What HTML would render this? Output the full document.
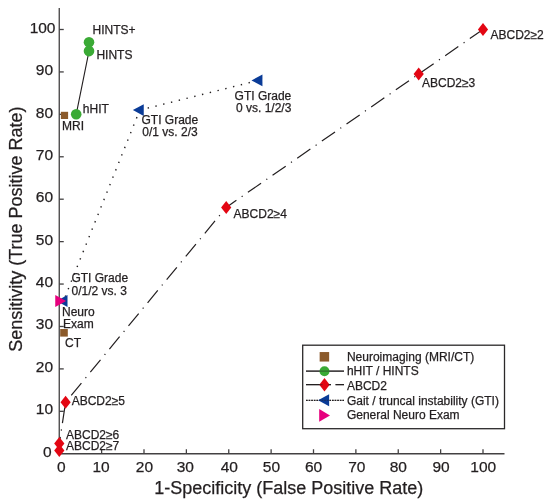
<!DOCTYPE html>
<html><head><meta charset="utf-8"><title>ROC</title>
<style>html,body{margin:0;padding:0;background:#fff}svg{display:block}text{font-family:"Liberation Sans",Arial,sans-serif;fill:#231f20;stroke:#231f20;stroke-width:0.25px}</style></head><body>
<svg width="550" height="503" viewBox="0 0 550 503">
<rect width="550" height="503" fill="#fff"/>
<g stroke="#434142" stroke-width="1.3" fill="none" stroke-linecap="butt">
<path d="M59.25 8V453.75H504.5"/>
<path d="M101.62 453.75v-4.5"/>
<path d="M59.25 411.32h4.5"/>
<path d="M144 453.75v-4.5"/>
<path d="M59.25 368.9h4.5"/>
<path d="M186.38 453.75v-4.5"/>
<path d="M59.25 326.48h4.5"/>
<path d="M228.75 453.75v-4.5"/>
<path d="M59.25 284.05h4.5"/>
<path d="M271.12 453.75v-4.5"/>
<path d="M59.25 241.62h4.5"/>
<path d="M313.5 453.75v-4.5"/>
<path d="M59.25 199.2h4.5"/>
<path d="M355.88 453.75v-4.5"/>
<path d="M59.25 156.78h4.5"/>
<path d="M398.25 453.75v-4.5"/>
<path d="M59.25 114.35h4.5"/>
<path d="M440.62 453.75v-4.5"/>
<path d="M59.25 71.93h4.5"/>
<path d="M483 453.75v-4.5"/>
<path d="M59.25 29.5h4.5"/>
</g>
<g font-size="15.5" text-anchor="middle">
<text x="61.25" y="471.5">0</text>
<text x="101.03" y="471.5">10</text>
<text x="144.4" y="471.5">20</text>
<text x="185.28" y="471.5">30</text>
<text x="229.35" y="471.5">40</text>
<text x="271.43" y="471.5">50</text>
<text x="313.5" y="471.5">60</text>
<text x="356.88" y="471.5">70</text>
<text x="398.25" y="471.5">80</text>
<text x="441.02" y="471.5">90</text>
<text x="483.3" y="471.5">100</text>
</g>
<g font-size="15.5" text-anchor="end">
<text x="51.6" y="456.5">0</text>
<text x="53.1" y="414.15">10</text>
<text x="53.1" y="371.8">20</text>
<text x="53.1" y="329.45">30</text>
<text x="53.1" y="287.1">40</text>
<text x="53.1" y="244.75">50</text>
<text x="53.1" y="202.4">60</text>
<text x="53.1" y="160.05">70</text>
<text x="53.1" y="117.7">80</text>
<text x="53.1" y="75.35">90</text>
<text x="55.5" y="33">100</text>
</g>
<text x="288.7" y="493.5" font-size="18" text-anchor="middle" fill="#1a1718">1-Specificity (False Positive Rate)</text>
<text transform="translate(21.8 229.1) rotate(-90)" font-size="18" text-anchor="middle" fill="#1a1718">Sensitivity (True Positive Rate)</text>
<polyline fill="none" stroke="#231f20" stroke-width="1.2" stroke-dasharray="16 6.4 1.2 6.4" points="483,29.5 418.7,74 226.2,207.4 65.6,402.2 59.3,443.6 59.3,450.6"/>
<polyline fill="none" stroke="#231f20" stroke-width="1.4" stroke-dasharray="1.4 6.6" stroke-dashoffset="7.2" points="258.41,80.41 139.76,110.11"/>
<polyline fill="none" stroke="#231f20" stroke-width="1.4" stroke-dasharray="1.4 6.6" stroke-dashoffset="0.46" points="139.76,110.11 63.49,301.02"/>
<polyline fill="none" stroke="#231f20" stroke-width="1.1" points="89,42.2 89,51.1 76.2,114.3"/>
<rect x="60.9" y="111.8" width="7.2" height="7.2" fill="#8b5a2b"/>
<rect x="60.2" y="329" width="7.6" height="7.6" fill="#8b5a2b"/>
<circle cx="89" cy="42.2" r="5.3" fill="#3aaa35"/>
<circle cx="89" cy="51.1" r="5.3" fill="#3aaa35"/>
<circle cx="76.2" cy="114.3" r="5.3" fill="#3aaa35"/>
<path d="M251.51 80.41L262.41 74.51V86.31Z" fill="#0a3b97"/>
<path d="M132.86 110.11L143.76 104.21V116.01Z" fill="#0a3b97"/>
<path d="M56.59 301.02L67.49 295.12V306.92Z" fill="#0a3b97"/>
<path d="M66.15 301.02L55.25 295.12V306.92Z" fill="#e6007e"/>
<path d="M483 23L488.1 29.5L483 36L477.9 29.5Z" fill="#e30613"/>
<path d="M418.7 67.5L423.8 74L418.7 80.5L413.6 74Z" fill="#e30613"/>
<path d="M226.2 200.9L231.3 207.4L226.2 213.9L221.1 207.4Z" fill="#e30613"/>
<path d="M65.6 395.7L70.7 402.2L65.6 408.7L60.5 402.2Z" fill="#e30613"/>
<path d="M59.3 437.1L64.4 443.6L59.3 450.1L54.2 443.6Z" fill="#e30613"/>
<path d="M59.3 444.1L64.4 450.6L59.3 457.1L54.2 450.6Z" fill="#e30613"/>
<g font-size="12">
<text x="92.5" y="34.3">HINTS+</text>
<text x="96.4" y="59">HINTS</text>
<text x="82.8" y="113.4">hHIT</text>
<text x="62" y="130">MRI</text>
<text x="141.5" y="123.6">GTI Grade</text>
<text x="142.3" y="136">0/1 vs. 2/3</text>
<text x="234.6" y="100">GTI Grade</text>
<text x="236" y="112.4">0 vs. 1/2/3</text>
<text x="71.4" y="282.4">GTI Grade</text>
<text x="71.6" y="294.6">0/1/2 vs. 3</text>
<text x="62" y="315.6">Neuro</text>
<text x="63" y="328">Exam</text>
<text x="65" y="347.4">CT</text>
<text x="490.5" y="38.6">ABCD2≥2</text>
<text x="422" y="86.5">ABCD2≥3</text>
<text x="233.6" y="218">ABCD2≥4</text>
<text x="71.7" y="405">ABCD2≥5</text>
<text x="66" y="438.7">ABCD2≥6</text>
<text x="66" y="449.8">ABCD2≥7</text>
</g>
<rect x="302.7" y="345.2" width="201.8" height="83.5" fill="#fff" stroke="#2b292a" stroke-width="1.3"/>
<g font-size="12">
<text x="346.9" y="361">Neuroimaging (MRI/CT)</text>
<text x="346.9" y="375.2">hHIT / HINTS</text>
<text x="346.9" y="389.7">ABCD2</text>
<text x="346.9" y="404.5">Gait / truncal instability (GTI)</text>
<text x="346.9" y="419">General Neuro Exam</text>
</g>
<rect x="319.65" y="352.05" width="9.5" height="9.5" fill="#8b5a2b"/>
<path d="M306 371.2H344" stroke="#231f20" stroke-width="1.2"/>
<circle cx="324.5" cy="371.2" r="5.0" fill="#3aaa35"/>
<path d="M306 371.2H344" stroke="#231f20" stroke-width="1.2" opacity="0.45"/>
<path d="M306 384.7H322.5M328 384.7H331M335.5 384.7H344" stroke="#231f20" stroke-width="1.2"/>
<path d="M324.5 377.9L329.7 384.7L324.5 391.5L319.3 384.7Z" fill="#e30613"/>
<path d="M306 384.7H322.5M328 384.7H331M335.5 384.7H344" stroke="#231f20" stroke-width="1.2" opacity="0.45"/>
<path d="M306 400.3H344" stroke="#231f20" stroke-width="1.2" stroke-dasharray="1.7 0.9"/>
<path d="M318.1 400.2L329.1 394.2V406.2Z" fill="#0a3b97"/>
<path d="M306 400.3H344" stroke="#231f20" stroke-width="1.2" stroke-dasharray="1.7 0.9" opacity="0.4"/>
<path d="M330 415.4L319.2 409.1V421.7Z" fill="#e6007e"/>
</svg></body></html>
